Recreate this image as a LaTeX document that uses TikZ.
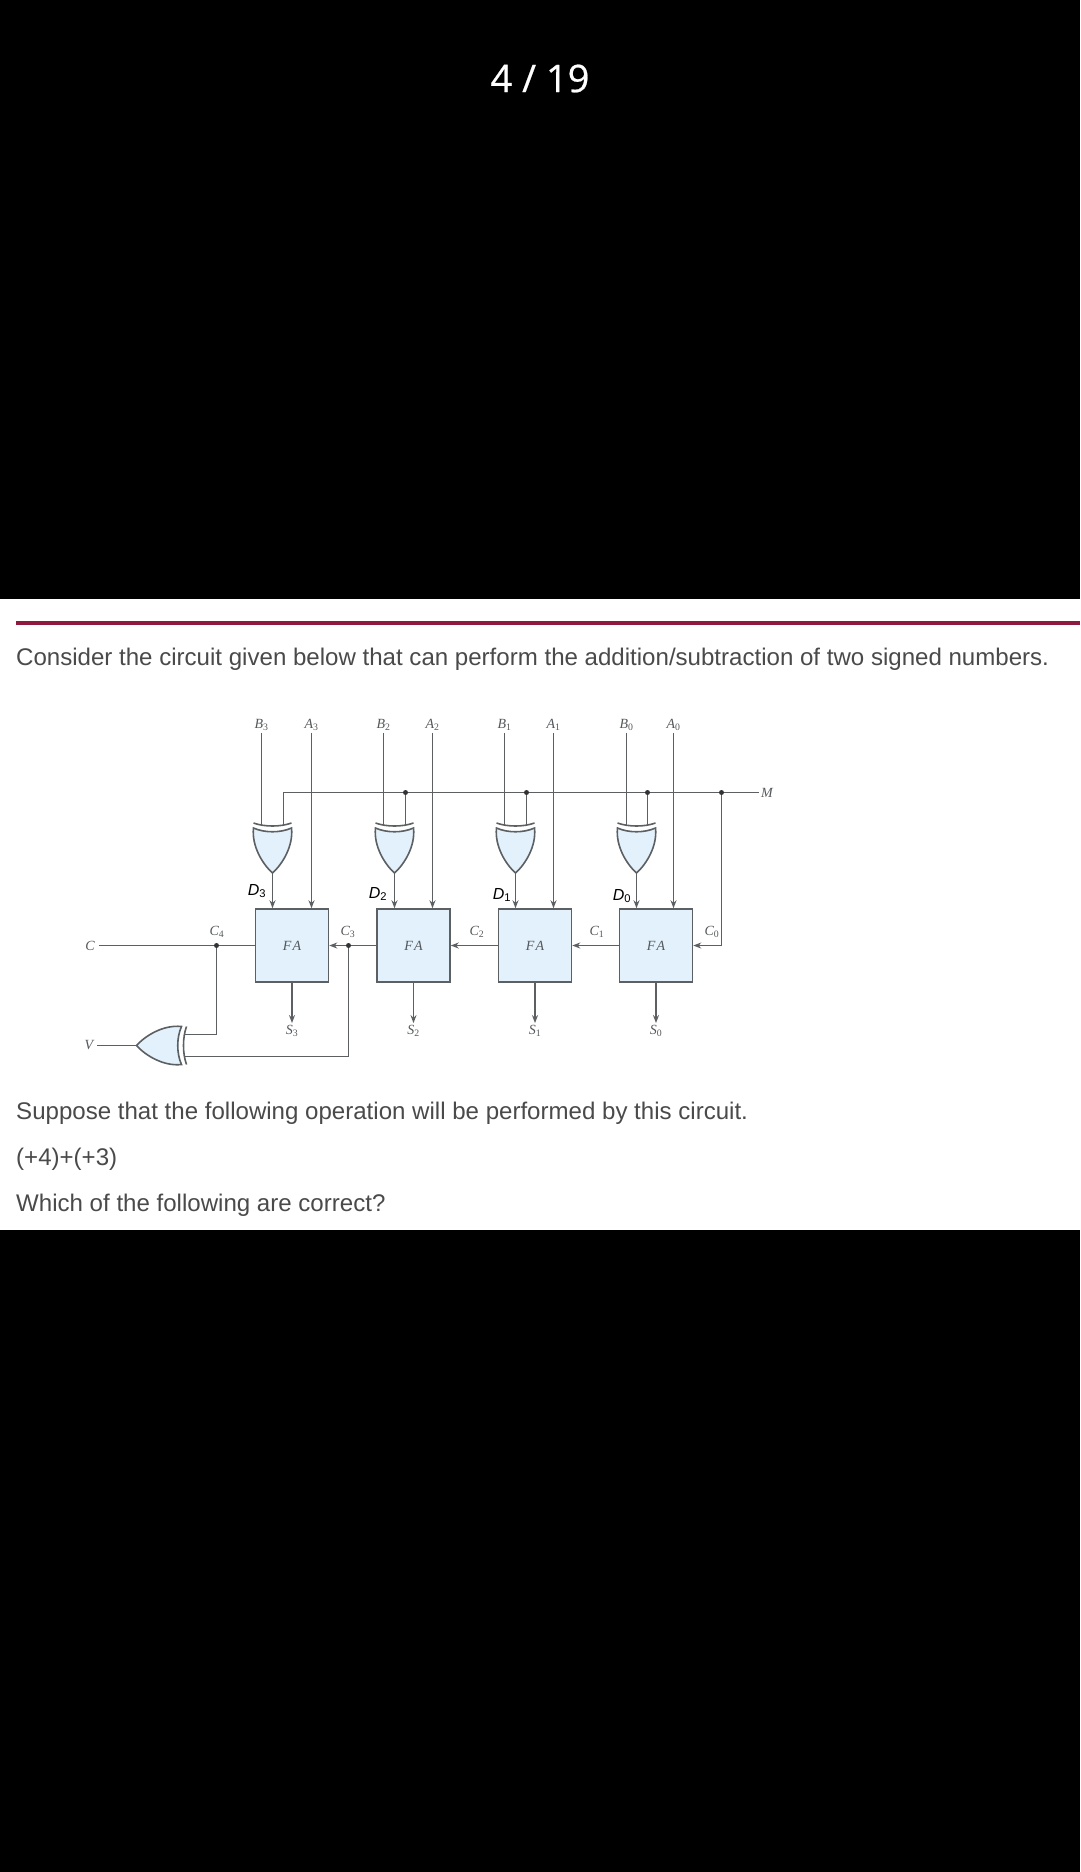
\documentclass[tikz,border=0pt]{standalone}
\usepackage{fontspec}
\setmainfont{Liberation Sans}
\setsansfont{Liberation Sans}
\newfontfamily\pagefont[FakeBold=0.6]{Open Sans}
\newfontfamily\labelfont{Liberation Serif}
\usepackage{xcolor}
\usetikzlibrary{arrows.meta}
\definecolor{wiregray}{HTML}{5C6063}
\definecolor{labelgray}{HTML}{55595C}
\definecolor{faceblue}{HTML}{E2F1FB}
\definecolor{rulered}{HTML}{8E1B3F}
\definecolor{bodygray}{HTML}{4A4A4A}

\newcommand{\pinname}[2]{#1\textsubscript{\upshape #2}}

\tikzset{
	wire/.style = {wiregray, line width = 1.5pt},
	arrowwire/.style = {wire, -{Stealth[length = 8pt, width = 6pt]}},
	fa/.style = {draw = wiregray, line width = 1.5pt, fill = faceblue, minimum size = 73pt, inner sep = 0pt, text = labelgray, font = \fontsize{14}{16}\selectfont\labelfont\itshape},
	pinlabel/.style = {text = labelgray, inner sep = 2pt, font = \fontsize{14}{16}\selectfont\labelfont\itshape},
	dlabel/.style = {text = black, inner sep = 0pt, font = \fontsize{16}{18}\selectfont\sffamily\itshape},
	dotnode/.style = {circle, fill = black!80, inner sep = 0pt, minimum size = 5pt},
	bodytext/.style = {anchor = base west, inner sep = 0pt, text = bodygray, font = \fontsize{24.07}{28}\selectfont},
	xorgate/.pic = {
		\draw [wiregray, line width = 1.6pt, fill = faceblue] (-19,0) .. controls (-8,5) and (8,5) .. (19,0) .. controls (21,18) and (10,36) .. (0,45) .. controls (-10,36) and (-21,18) .. (-19,0) -- cycle;
		\draw [wiregray, line width = 1.6pt] (-19,-5) .. controls (-8,-1) and (8,-1) .. (19,-5);
		\coordinate (-in1) at (-11,-2.5);
		\coordinate (-in2) at (11,-2.5);
		\coordinate (-out) at (0,45);
	}
}

\begin{document}
\begin{tikzpicture}[x = 1pt, y = -1pt]
	\useasboundingbox (0,0) rectangle (1080,1872);
	\fill [black] (0,0) rectangle (1080,1872);
	\fill [white] (0,599) rectangle (1080,1230);
	\fill [rulered] (16,621) rectangle (1080,625);

	\node [text = white, inner sep = 0pt, font = \fontsize{38}{42}\selectfont\pagefont] (pagenum) at (540,78.5) {4 / 19};
	\node [bodytext] (intro) at (16,665) {Consider the circuit given below that can perform the addition/subtraction of two signed numbers.};
	\node [bodytext] (suppose) at (16,1119) {Suppose that the following operation will be performed by this circuit.};
	\node [bodytext] (operation) at (16,1165) {(+4)+(+3)};
	\node [bodytext] (question) at (16,1211) {Which of the following are correct?};

	\node [pinlabel] (m) at (767,792.5) {M};
	\node [pinlabel, inner sep = 4pt] (c) at (90,945.5) {C};
	\node [pinlabel, inner sep = 4pt] (v) at (89,1045.5) {V};

	\foreach \i/\fx/\bx/\ax/\gx/\dx/\dy in {3/292/261.5/311.5/272.5/257/891, 2/413.5/383.5/432.5/394.5/378/894, 1/535/504.5/553.5/515.5/502/895, 0/656/626.5/673.5/636.5/622/896}
	{
		\node [fa] (fa\i) at (\fx,945.5) {F\kern1.2pt A};
		\node [pinlabel] (b\i) at (\bx,725) {\pinname{B}{\i}};
		\node [pinlabel] (a\i) at (\ax,725) {\pinname{A}{\i}};
		\node [pinlabel] (s\i) at (\fx,1031) {\pinname{S}{\i}};
		\node [dlabel] (d\i) at (\dx,\dy) {\pinname{D}{\i}};
		\pic (gate\i) at (\gx,828) {xorgate};

		\draw [wire] (b\i.south) -- (b\i |- gate\i-in1);
		\draw [arrowwire] (a\i.south) -- (a\i |- fa\i.north);
		\draw [arrowwire] (gate\i-out) -- (gate\i-out |- fa\i.north);
		\draw [arrowwire] (fa\i.south) -- (s\i.north);
	}

	% control line
	\draw [wire] (m.west) -| (gate3-in2);
	\foreach \i in {2,1,0}
	{
		\node [dotnode] (dot\i) at (gate\i-in2 |- m) {};
		\draw [wire] (dot\i) -- (gate\i-in2);
	}
	\node [dotnode] (dotm) at (721.5,792.5) {};
	\draw [arrowwire] (dotm) |- (fa0.east);

	% carries
	\draw [arrowwire] (fa0.west) -- (fa1.east);
	\draw [arrowwire] (fa1.west) -- (fa2.east);
	\draw [arrowwire] (fa2.west) -- (fa3.east);
	\draw [wire] (c.east) -- (fa3.west);
	\node [dotnode] (dot3) at (348.5,945.5) {};
	\node [dotnode] (dot4) at (216.5,945.5) {};

	\node [pinlabel] (c0) at (712,932) {\pinname{C}{0}};
	\node [pinlabel] (c1) at (597,932) {\pinname{C}{1}};
	\node [pinlabel] (c2) at (477,932) {\pinname{C}{2}};
	\node [pinlabel] (c3) at (348,932) {\pinname{C}{3}};
	\node [pinlabel] (c4) at (217,932) {\pinname{C}{4}};

	% overflow
	\pic [rotate = -90] (gatev) at (181.5,1045.5) {xorgate};
	\draw [wire] (v.east) -- (gatev-out);
	\draw [wire] (dot4) |- (gatev-in1);
	\draw [wire] (dot3) |- (gatev-in2);
\end{tikzpicture}
\end{document}
